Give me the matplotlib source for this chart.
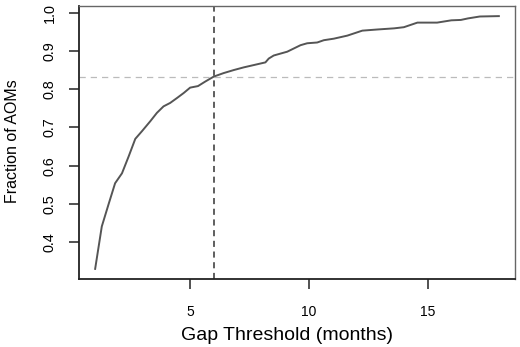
import numpy as np
import matplotlib.pyplot as plt

plt.rcParams['font.family'] = ['Liberation Sans', 'DejaVu Sans']

# fraction of AOMs covered vs gap threshold
gap_months = [1.0, 1.28, 1.56, 1.84, 2.13, 2.41, 2.69, 2.97, 3.32, 3.60, 3.88, 4.16,
              4.45, 4.73, 5.0, 5.33, 5.64, 6.0, 6.41, 6.84, 7.26, 7.68, 8.17, 8.31,
              8.52, 9.09, 9.65, 9.93, 10.35, 10.63, 11.05, 11.62, 12.25, 12.88, 13.59,
              14.0, 14.57, 15.4, 16.0, 16.4, 16.7, 17.2, 18.0]
fraction = [0.33, 0.441, 0.498, 0.554, 0.580, 0.624, 0.670, 0.690, 0.716, 0.738, 0.755,
            0.764, 0.777, 0.790, 0.804, 0.808, 0.820, 0.833, 0.842, 0.850, 0.857, 0.863,
            0.870, 0.880, 0.888, 0.898, 0.915, 0.920, 0.922, 0.928, 0.932, 0.940, 0.953,
            0.956, 0.959, 0.962, 0.974, 0.974, 0.980, 0.981, 0.985, 0.990, 0.991]
cut_x = 6
cut_y = 0.833
xticks = [5, 10, 15]
yticks = [0.4, 0.5, 0.6, 0.7, 0.8, 0.9, 1.0]

fig = plt.figure(figsize=(5.2, 3.47), dpi=100)
ax = fig.add_axes([79/520, 1-279/347, 436/520, 273/347])

ax.plot(gap_months, fraction, color='#555555', lw=1.4, zorder=3)
ax.axvline(cut_x, color='#333333', lw=1.1, ls=(0, (4, 3)), zorder=2)
ax.axhline(cut_y, color='#bbbbbb', lw=0.9, ls=(0, (5, 4)), zorder=1)

# R style 4% extension
xr = max(gap_months) - min(gap_months)
yr = max(fraction) - min(fraction)
ax.set_xlim(min(gap_months) - 0.04*xr, max(gap_months) + 0.04*xr)
ax.set_ylim(min(fraction) - 0.04*yr, max(fraction) + 0.04*yr)

ax.set_xticks(xticks)
ax.set_yticks(yticks)
ax.set_yticklabels(['%.1f' % v for v in yticks], rotation=90, va='center')
ax.tick_params(axis='x', length=7, width=1.1, color='#222222', pad=12, labelsize=10)
ax.tick_params(axis='y', length=7, width=1.1, color='#222222', pad=9, labelsize=10.4)

for s in ['left', 'bottom']:
    ax.spines[s].set_color('#222222')
    ax.spines[s].set_linewidth(1.3)
for s in ['top', 'right']:
    ax.spines[s].set_color('#666666')
    ax.spines[s].set_linewidth(1.0)

ax.set_xlabel('Gap Threshold (months)', fontsize=14)
ax.set_ylabel('Fraction of AOMs', fontsize=11.5)
ax.xaxis.set_label_coords(0.477, -0.175)
ax.yaxis.set_label_coords(-0.135, 0.505)

fig.savefig('out.png', dpi=100)
